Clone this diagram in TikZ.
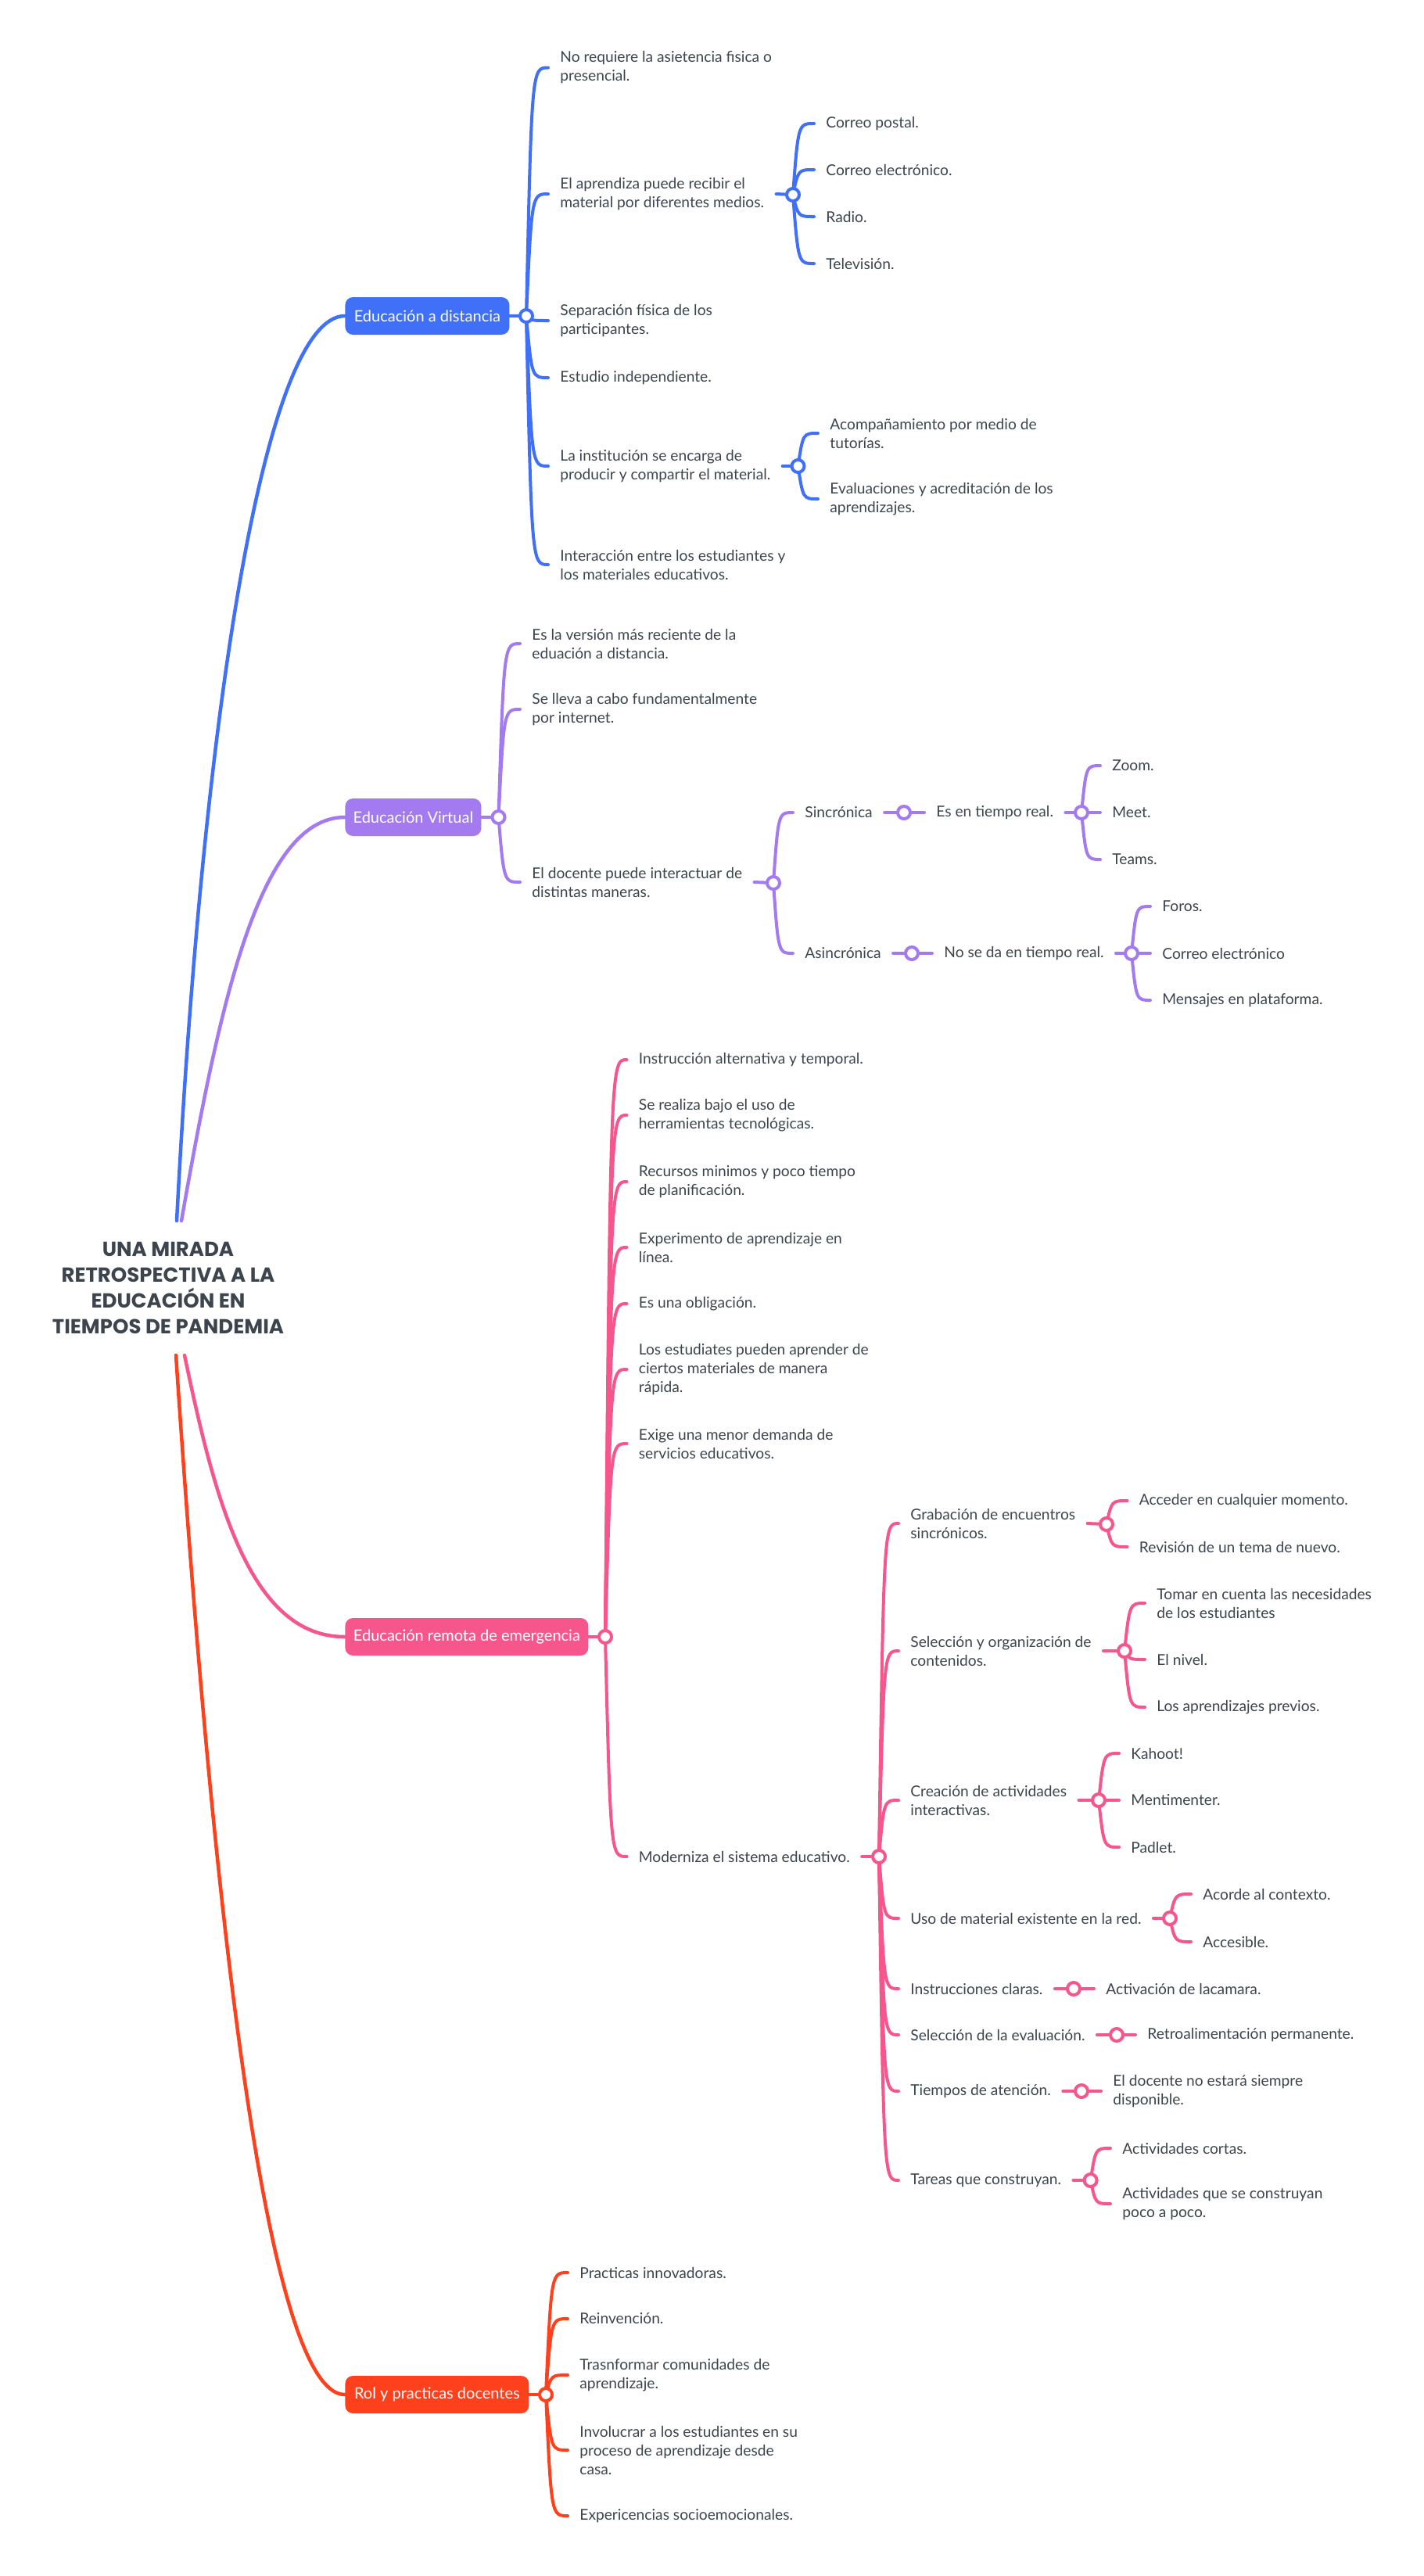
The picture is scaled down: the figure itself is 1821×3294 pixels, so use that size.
\documentclass[tikz,border=0pt]{standalone}
\usepackage{fontspec}
\setmainfont{Lato}
\newfontfamily\titlefont{Poppins}
\usetikzlibrary{calc}
\definecolor{cblue}{RGB}{64,112,247}
\definecolor{cpurple}{RGB}{163,122,240}
\definecolor{cpink}{RGB}{246,86,140}
\definecolor{cred}{RGB}{255,64,28}
\definecolor{ctext}{RGB}{60,68,78}
\pgfdeclarelayer{bg}
\pgfsetlayers{bg,main}
\newcommand\kid[3]{\draw[br=#1] let \p1=(#2.center), \p2=(#3.west) in (\p1) .. controls ({0.75*\x1+0.25*\x2},\y2) and ({0.75*\x1+0.25*\x2},\y2) .. (\p2);}
\begin{document}
\begin{tikzpicture}[x=0.5pt,y=-0.5pt,
 txt/.style={anchor=west, align=left, text=ctext, font=\fontsize{9.6pt}{12pt}\selectfont, inner xsep=7.5pt, inner ysep=0pt},
 box/.style={anchor=west, rounded corners=5pt, fill=#1, text=white, font=\fontsize{10pt}{12pt}\selectfont, minimum height=24pt, inner xsep=0pt, inner ysep=0pt},
 dot/.style={circle, draw=#1, fill=white, line width=2pt, minimum size=8pt, inner sep=0pt},
 br/.style={draw=#1, line width=2pt, line cap=round},
 trunkline/.style={draw=#1, line width=2.25pt, line cap=round},
]
\useasboundingbox (0,0) rectangle (1821,3294);
% root
\node[font={\titlefont\bfseries\fontsize{13pt}{16.5pt}\selectfont}, text=ctext, align=center] (root) at (215,1647) {UNA MIRADA\\RETROSPECTIVA A LA\\EDUCACIÓN EN\\TIEMPOS DE PANDEMIA};
\coordinate (rb) at (226,1561);
\coordinate (rv) at (232,1561);
\coordinate (re) at (236,1733);
\coordinate (rr) at (225,1733);

% ---------- blue
\node[box=cblue, minimum width=105pt] (B) at (441,404) {Educación a distancia};
\node[dot=cblue] (Bc) at (673,404) {};
\node[txt] (b1) at (701,86.5) {No requiere la asietencia fisica o\\presencial.};
\node[txt] (b2) at (701,248) {El aprendiza puede recibir el\\material por diferentes medios.};
\node[txt] (b3) at (701,410) {Separación física de los\\participantes.};
\node[txt] (b4) at (701,483) {Estudio independiente.};
\node[txt] (b5) at (701,596) {La institución se encarga de\\producir y compartir el material.};
\node[txt] (b6) at (701,722) {Interacción entre los estudiantes y\\los materiales educativos.};
\node[dot=cblue] (b2c) at (1014,249) {};
\node[txt] (b21) at (1041,158) {Correo postal.};
\node[txt] (b22) at (1041,217) {Correo electrónico.};
\node[txt] (b23) at (1041,277) {Radio.};
\node[txt] (b24) at (1041,337) {Televisión.};
\node[dot=cblue] (b5c) at (1020.5,596) {};
\node[txt] (b51) at (1046,554) {Acompañamiento por medio de\\tutorías.};
\node[txt] (b52) at (1046,638) {Evaluaciones y acreditación de los\\aprendizajes.};

% ---------- purple
\node[box=cpurple, minimum width=87pt] (V) at (441,1045) {Educación Virtual};
\node[dot=cpurple] (Vc) at (637.5,1045) {};
\node[txt] (v1) at (665,823) {Es la versión más reciente de la\\eduación a distancia.};
\node[txt] (v2) at (665,907) {Se lleva a cabo fundamentalmente\\por internet.};
\node[txt] (v3) at (665,1128) {El docente puede interactuar de\\distintas maneras.};
\node[dot=cpurple] (v3c) at (989,1129) {};
\node[txt] (v31) at (1014,1039) {Sincrónica};
\node[dot=cpurple] (v31c) at (1156,1039) {};
\node[txt] (v311) at (1182,1039) {Es en tiempo real.};
\node[dot=cpurple] (v311c) at (1383,1039) {};
\node[txt] (z1) at (1407,979) {Zoom.};
\node[txt] (z2) at (1407,1039) {Meet.};
\node[txt] (z3) at (1407,1099) {Teams.};
\node[txt] (v32) at (1014,1219) {Asincrónica};
\node[dot=cpurple] (v32c) at (1166,1219) {};
\node[txt] (v321) at (1192,1219) {No se da en tiempo real.};
\node[dot=cpurple] (v321c) at (1447,1219) {};
\node[txt] (f1) at (1471,1159) {Foros.};
\node[txt] (f2) at (1471,1219) {Correo electrónico};
\node[txt] (f3) at (1471,1279) {Mensajes en plataforma.};

% ---------- pink
\node[box=cpink, minimum width=155.5pt] (E) at (441,2093) {Educación remota de emergencia};
\node[dot=cpink] (Ec) at (774,2093) {};
\node[txt] (e1) at (801.5,1355) {Instrucción alternativa y temporal.};
\node[txt] (e2) at (801.5,1426) {Se realiza bajo el uso de\\herramientas tecnológicas.};
\node[txt] (e3) at (801.5,1511) {Recursos minimos y poco tiempo\\de planificación.};
\node[txt] (e4) at (801.5,1595) {Experimento de aprendizaje en\\línea.};
\node[txt] (e5) at (801.5,1667) {Es una obligación.};
\node[txt] (e6) at (801.5,1751) {Los estudiates pueden aprender de\\ciertos materiales de manera\\rápida.};
\node[txt] (e7) at (801.5,1846) {Exige una menor demanda de\\servicios educativos.};
\node[txt] (e8) at (801.5,2374) {Moderniza el sistema educativo.};
\node[dot=cpink] (e8c) at (1124,2374) {};
\node[txt] (m1) at (1149,1948) {Grabación de encuentros\\sincrónicos.};
\node[dot=cpink] (m1c) at (1415,1949) {};
\node[txt] (m11) at (1441.5,1919) {Acceder en cualquier momento.};
\node[txt] (m12) at (1441.5,1978) {Revisión de un tema de nuevo.};
\node[txt] (m2) at (1149,2111) {Selección y organización de\\contenidos.};
\node[dot=cpink] (m2c) at (1438,2111) {};
\node[txt] (m21) at (1464,2050) {Tomar en cuenta las necesidades\\de los estudiantes};
\node[txt] (m22) at (1464,2122) {El nivel.};
\node[txt] (m23) at (1464,2183) {Los aprendizajes previos.};
\node[txt] (m3) at (1149,2302) {Creación de actividades\\interactivas.};
\node[dot=cpink] (m3c) at (1405,2302) {};
\node[txt] (m31) at (1431,2242) {Kahoot!};
\node[txt] (m32) at (1431,2302) {Mentimenter.};
\node[txt] (m33) at (1431,2362) {Padlet.};
\node[txt] (m4) at (1149,2453) {Uso de material existente en la red.};
\node[dot=cpink] (m4c) at (1496,2453) {};
\node[txt] (m41) at (1523,2422) {Acorde al contexto.};
\node[txt] (m42) at (1523,2483) {Accesible.};
\node[txt] (m5) at (1149,2543) {Instrucciones claras.};
\node[dot=cpink] (m5c) at (1373,2543) {};
\node[txt] (m51) at (1399,2543) {Activación de lacamara.};
\node[txt] (m6) at (1149,2602) {Selección de la evaluación.};
\node[dot=cpink] (m6c) at (1428,2602) {};
\node[txt] (m61) at (1452,2602) {Retroalimentación permanente.};
\node[txt] (m7) at (1149,2674) {Tiempos de atención.};
\node[dot=cpink] (m7c) at (1383,2674) {};
\node[txt] (m71) at (1408,2674) {El docente no estará siempre\\disponible.};
\node[txt] (m8) at (1149,2788) {Tareas que construyan.};
\node[dot=cpink] (m8c) at (1394.6,2788) {};
\node[txt] (m81) at (1420,2747) {Actividades cortas.};
\node[txt] (m82) at (1420,2818) {Actividades que se construyan\\poco a poco.};

% ---------- red
\node[box=cred, minimum width=117.5pt] (R) at (441,3062) {Rol y practicas docentes};
\node[dot=cred] (Rc) at (698,3062) {};
\node[txt] (r1) at (726,2906) {Practicas innovadoras.};
\node[txt] (r2) at (726,2965) {Reinvención.};
\node[txt] (r3) at (726,3037) {Trasnformar comunidades de\\aprendizaje.};
\node[txt] (r4) at (726,3133) {Involucrar a los estudiantes en su\\proceso de aprendizaje desde\\casa.};
\node[txt] (r5) at (726,3217) {Expericencias socioemocionales.};

\begin{pgfonlayer}{bg}
% main branches
\draw[trunkline=cblue] (rb) .. controls (260,900) and (340,404) .. (B.west);
\draw[trunkline=cpurple] (rv) .. controls (280,1290) and (330,1045) .. (V.west);
\draw[trunkline=cpink] (re) .. controls (275,1920) and (320,2093) .. (E.west);
\draw[trunkline=cred] (rr) .. controls (262,2290) and (330,3062) .. (R.west);
% blue
\draw[br=cblue] (B.east) -- (Bc);
\foreach \k in {b1,b2,b3,b4,b5,b6} {\kid{cblue}{Bc}{\k}}
\draw[br=cblue] (b2.east) -- (b2c);
\foreach \k in {b21,b22,b23,b24} {\kid{cblue}{b2c}{\k}}
\draw[br=cblue] (b5.east) -- (b5c);
\foreach \k in {b51,b52} {\kid{cblue}{b5c}{\k}}
% purple
\draw[br=cpurple] (V.east) -- (Vc);
\foreach \k in {v1,v2,v3} {\kid{cpurple}{Vc}{\k}}
\draw[br=cpurple] (v3.east) -- (v3c);
\foreach \k in {v31,v32} {\kid{cpurple}{v3c}{\k}}
\draw[br=cpurple] (v31.east) -- (v31c) -- (v311.west);
\draw[br=cpurple] (v311.east) -- (v311c);
\foreach \k in {z1,z2,z3} {\kid{cpurple}{v311c}{\k}}
\draw[br=cpurple] (v32.east) -- (v32c) -- (v321.west);
\draw[br=cpurple] (v321.east) -- (v321c);
\foreach \k in {f1,f2,f3} {\kid{cpurple}{v321c}{\k}}
% pink
\draw[br=cpink] (E.east) -- (Ec);
\foreach \k in {e1,e2,e3,e4,e5,e6,e7,e8} {\kid{cpink}{Ec}{\k}}
\draw[br=cpink] (e8.east) -- (e8c);
\foreach \k in {m1,m2,m3,m4,m5,m6,m7,m8} {\kid{cpink}{e8c}{\k}}
\draw[br=cpink] (m1.east) -- (m1c);
\foreach \k in {m11,m12} {\kid{cpink}{m1c}{\k}}
\draw[br=cpink] (m2.east) -- (m2c);
\foreach \k in {m21,m22,m23} {\kid{cpink}{m2c}{\k}}
\draw[br=cpink] (m3.east) -- (m3c);
\foreach \k in {m31,m32,m33} {\kid{cpink}{m3c}{\k}}
\draw[br=cpink] (m4.east) -- (m4c);
\foreach \k in {m41,m42} {\kid{cpink}{m4c}{\k}}
\draw[br=cpink] (m5.east) -- (m5c) -- (m51.west);
\draw[br=cpink] (m6.east) -- (m6c) -- (m61.west);
\draw[br=cpink] (m7.east) -- (m7c) -- (m71.west);
\draw[br=cpink] (m8.east) -- (m8c);
\foreach \k in {m81,m82} {\kid{cpink}{m8c}{\k}}
% red
\draw[br=cred] (R.east) -- (Rc);
\foreach \k in {r1,r2,r3,r4,r5} {\kid{cred}{Rc}{\k}}
\end{pgfonlayer}
\end{tikzpicture}
\end{document}
